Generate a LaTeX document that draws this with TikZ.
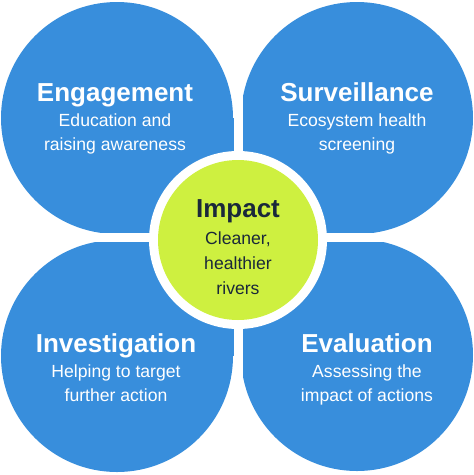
\documentclass[tikz,border=0pt]{standalone}
\usepackage{fontspec}
\setmainfont{Liberation Sans}
\definecolor{cblue}{RGB}{56,142,220}
\definecolor{clime}{RGB}{206,240,64}
\definecolor{cdark}{RGB}{26,40,58}
\begin{document}
\begin{tikzpicture}[x=1pt,y=-1pt,
  title/.style={font=\fontsize{26}{26}\selectfont\bfseries, text=white, inner sep=0pt, anchor=base},
  sub/.style={font=\fontsize{17.6}{24}\selectfont, text=white, inner sep=0pt, anchor=base},
  ititle/.style={title, text=cdark},
  isub/.style={sub, text=cdark}]
\useasboundingbox[fill=white] (0,0) rectangle (474,475);
% blue petals
\fill[cblue] (117,118) circle[radius=116];
\fill[cblue] (357,118) circle[radius=116];
\fill[cblue] (117,356) circle[radius=116];
\fill[cblue] (357,355) circle[radius=116];
\fill[cblue] (117,118) rectangle (357,356);
% white gaps
\fill[white] (233.5,0) rectangle (242.5,475);
\fill[white] (0,232.5) rectangle (474,241.5);
% centre
\fill[white] (238,240) circle[radius=89];
\fill[clime] (238,240) circle[radius=80];
% texts
\node[title] (eng) at (115,101) {Engagement};
\node[sub] (engs1) at (115,126.5) {Education and};
\node[sub] (engs2) at (115,150.5) {raising awareness};
\node[title] (sur) at (357,101) {Surveillance};
\node[sub] (surs1) at (357,126.5) {Ecosystem health};
\node[sub] (surs2) at (357,150.5) {screening};
\node[title] (inv) at (116,352) {Investigation};
\node[sub] (invs1) at (116,377.5) {Helping to target};
\node[sub] (invs2) at (116,401.5) {further action};
\node[title] (eva) at (367,352) {Evaluation};
\node[sub] (evas1) at (367,377.5) {Assessing the};
\node[sub] (evas2) at (367,401.5) {impact of actions};
\node[ititle] (imp) at (238,217.3) {Impact};
\node[isub] (imps1) at (238,244.5) {Cleaner,};
\node[isub] (imps2) at (238,269.5) {healthier};
\node[isub] (imps3) at (238,294.5) {rivers};
\end{tikzpicture}
\end{document}
